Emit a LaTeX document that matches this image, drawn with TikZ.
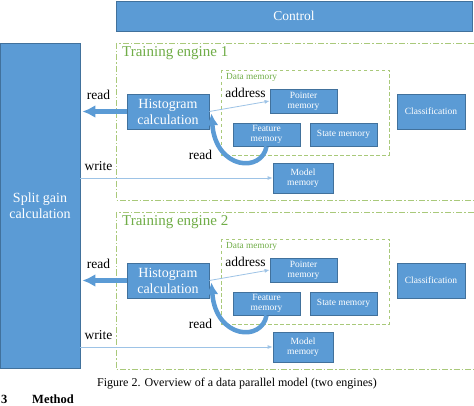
\documentclass[tikz,border=0pt]{standalone}
\usepackage{fontspec}
\setmainfont{Liberation Serif}
\usepackage{tikz}
\usetikzlibrary{arrows.meta,positioning,calc}
\definecolor{BoxBlue}{HTML}{5B9BD5}
\definecolor{BoxEdge}{HTML}{41719C}
\definecolor{EngGreen}{HTML}{70AD47}
\definecolor{LineGreen}{HTML}{A9C97A}
\definecolor{LinkBlue}{HTML}{9DC3E6}

\begin{document}
\begin{tikzpicture}[x=1pt,y=-1pt,>=Latex,
    blockbox/.style={draw=BoxEdge, fill=BoxBlue, text=white, align=center, inner sep=0pt, line width=0.8pt},
    smallbox/.style={blockbox, font=\fontsize{9.5}{10}\selectfont},
    bigbox/.style={blockbox, font=\fontsize{14}{16}\selectfont},
    enginebox/.style={LineGreen, line width=0.9pt, dash pattern=on 6pt off 2pt on 1.5pt off 2pt},
    memorybox/.style={LineGreen, line width=0.9pt, dash pattern=on 3.5pt off 2.5pt},
    sidelabel/.style={font=\fontsize{13.5}{15}\selectfont, text=black, inner sep=0pt},
    fatarrow/.style={-{Latex[length=13pt,width=13pt]}, BoxBlue, line width=5pt},
    thinarrow/.style={-{Latex[length=5pt,width=4pt]}, LinkBlue, line width=0.8pt}]
        \useasboundingbox (0,0) rectangle (474,406);
        \fill[white] (0,0) rectangle (474,406);

        \node[blockbox, minimum width=356pt, minimum height=30pt, font=\fontsize{13.5}{15}\selectfont] (control) at (294,16) {Control};
        \node[bigbox, minimum width=80pt, minimum height=325pt] (split) at (40,205.5) {Split gain\\calculation};

        \foreach \n/\dy in {1/0,2/169} {
            \draw[enginebox] (116,43+\dy) rectangle (477,200+\dy);
            \node[anchor=north west, inner sep=0pt, text=EngGreen, font=\fontsize{15}{17}\selectfont] (title\n) at (122,46+\dy) {Training engine \n};
            \draw[memorybox] (221,70+\dy) rectangle (389,155+\dy);
            \node[anchor=north west, inner sep=0pt, text=EngGreen, font=\fontsize{9.3}{10}\selectfont] (datalab\n) at (226,73+\dy) {Data memory};

            \node[bigbox, minimum width=82pt, minimum height=35pt] (hist\n) at (168,111.5+\dy) {Histogram\\calculation};
            \node[smallbox, minimum width=67pt, minimum height=24pt] (pointer\n) at (303.5,101+\dy) {Pointer\\memory};
            \node[smallbox, minimum width=67pt, minimum height=23pt] (feature\n) at (266.5,134.5+\dy) {Feature\\memory};
            \node[smallbox, minimum width=67pt, minimum height=23pt] (state\n) at (343.5,134.5+\dy) {State memory};
            \node[smallbox, minimum width=68pt, minimum height=35pt] (class\n) at (431,111.5+\dy) {Classification};
            \node[smallbox, minimum width=60pt, minimum height=30pt] (model\n) at (303,178+\dy) {Model\\memory};

            \draw[fatarrow] (hist\n.west) -- ([xshift=2pt]split.east |- hist\n.west);
            \draw[thinarrow] (hist\n.east) -- (pointer\n.west);
            \draw[thinarrow] (split.east |- model\n.west) -- (model\n.west);
            \draw[fatarrow, -{Latex[length=12pt,width=12pt]}, line width=4.5pt]
                (feature\n.south) .. controls (262,173+\dy) and (216,170+\dy) .. ([xshift=2pt,yshift=-2pt]hist\n.east);

            \node[sidelabel] (readA\n) at (98.5,95+\dy) {read};
            \node[sidelabel] (write\n) at (98.5,166+\dy) {write};
            \node[sidelabel] (addr\n) at (245.5,93+\dy) {address};
            \node[sidelabel] (readB\n) at (200.5,155+\dy) {read};
        }

        \node[font=\fontsize{12}{14}\selectfont] (caption) at (237,384) {Figure 2. Overview of a data parallel model (two engines)};
        \node[anchor=base west, inner sep=0pt, font=\bfseries\fontsize{12.5}{14}\selectfont] (secnum) at (1,403) {3};
        \node[anchor=base west, inner sep=0pt, font=\bfseries\fontsize{12.5}{14}\selectfont] (sectitle) at (32,403) {Method};
    \end{tikzpicture}
\end{document}
